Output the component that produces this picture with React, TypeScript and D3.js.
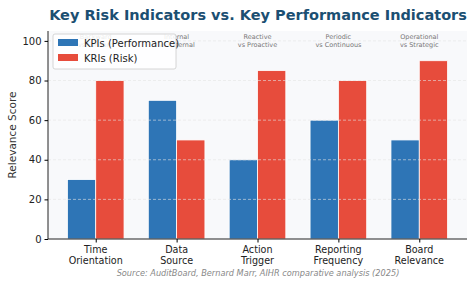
import React, { useRef, useEffect } from 'react';
import * as d3 from 'd3';

const categories = ['Time\nOrientation', 'Data\nSource', 'Action\nTrigger', 'Reporting\nFrequency', 'Board\nRelevance'];
const kpiValues = [30, 70, 40, 60, 50];
const kriValues = [80, 50, 85, 80, 90];
const notes = ['Backward\nvs Forward', 'Internal\nvs External', 'Reactive\nvs Proactive', 'Periodic\nvs Continuous', 'Operational\nvs Strategic'];
const yTicks = [0, 20, 40, 60, 80, 100];
const seriesNames = ['KPIs (Performance)', 'KRIs (Risk)'];
const colors = ['#2e75b6', '#e74c3c'];

const App = () => {
    const ref = useRef<SVGSVGElement>(null);

    useEffect(() => {
        const svg = d3.select(ref.current);
        svg.selectAll('*').remove();
        const font = 'DejaVu Sans, sans-serif';
        const left = 48, right = 467, top = 31, bottom = 239;

        const x = d3.scaleLinear().domain([-0.59, 4.59]).range([left, right]);
        const y = d3.scaleLinear().domain([0, 105]).range([bottom, top]);
        const bw = x(0.35) - x(0);

        svg.append('rect').attr('x', left).attr('y', top)
            .attr('width', right - left).attr('height', bottom - top).attr('fill', '#f8f9fb');

        // bars
        [kpiValues, kriValues].forEach((vals, s) => {
            svg.append('g').selectAll('rect').data(vals).enter().append('rect')
                .attr('x', (d, i) => x(i) + (s === 0 ? -bw : 0))
                .attr('y', d => y(d))
                .attr('width', bw)
                .attr('height', d => y(0) - y(d))
                .attr('fill', colors[s])
                .attr('stroke', '#fff').attr('stroke-width', 0.8);
        });

        // grid (drawn over bars)
        svg.append('g').selectAll('line').data(yTicks.filter(t => t > 0)).enter().append('line')
            .attr('x1', left).attr('x2', right)
            .attr('y1', d => y(d)).attr('y2', d => y(d))
            .attr('stroke', '#e4e4e4').attr('stroke-opacity', 0.75)
            .attr('stroke-dasharray', '3,2').attr('stroke-width', 0.8);

        // top annotations
        notes.forEach((n, i) => {
            const t = svg.append('text').attr('x', x(i)).attr('y', 39)
                .attr('text-anchor', 'middle').attr('font-family', font)
                .attr('font-size', 6.5).attr('fill', '#777');
            n.split('\n').forEach((line, j) => {
                t.append('tspan').attr('x', x(i)).attr('dy', j === 0 ? 0 : 8).text(line);
            });
        });

        // axes
        const yAxis = svg.append('g').attr('transform', `translate(${left},0)`)
            .call(d3.axisLeft(y).tickValues(yTicks).tickSize(3.5).tickPadding(3));
        yAxis.select('.domain').attr('d', `M0,${bottom}V${top}`).attr('stroke', '#222');
        yAxis.selectAll('text').attr('font-family', font).attr('font-size', 10).attr('fill', '#222');

        const xAxis = svg.append('g').attr('transform', `translate(0,${bottom})`)
            .call(d3.axisBottom(x).tickValues(d3.range(categories.length)).tickSize(3.5).tickFormat(() => ''));
        xAxis.select('.domain').attr('d', `M${left},0H${right}`).attr('stroke', '#222');

        categories.forEach((c, i) => {
            const t = svg.append('text').attr('x', x(i)).attr('y', 253)
                .attr('text-anchor', 'middle').attr('font-family', font)
                .attr('font-size', 9.6).attr('fill', '#222');
            c.split('\n').forEach((line, j) => {
                t.append('tspan').attr('x', x(i)).attr('dy', j === 0 ? 0 : 11).text(line);
            });
        });

        svg.append('text').attr('transform', `translate(16,${(top + bottom) / 2}) rotate(-90)`)
            .attr('text-anchor', 'middle').attr('font-family', font)
            .attr('font-size', 10.5).attr('fill', '#333').text('Relevance Score');

        // title
        svg.append('text').attr('x', 258).attr('y', 20)
            .attr('text-anchor', 'middle').attr('font-family', font)
            .attr('font-size', 14.5).attr('font-weight', 'bold').attr('fill', '#1b4f72')
            .text('Key Risk Indicators vs. Key Performance Indicators');

        // source
        svg.append('text').attr('x', 258).attr('y', 276)
            .attr('text-anchor', 'middle').attr('font-family', font)
            .attr('font-size', 8.2).attr('font-style', 'italic').attr('fill', '#888')
            .text('Source: AuditBoard, Bernard Marr, AIHR comparative analysis (2025)');

        // legend
        const lg = svg.append('g').attr('transform', 'translate(53,34)');
        lg.append('rect').attr('width', 123).attr('height', 35).attr('rx', 2)
            .attr('fill', '#fff').attr('fill-opacity', 0.85).attr('stroke', '#ccc').attr('stroke-width', 0.8);
        seriesNames.forEach((s, i) => {
            lg.append('rect').attr('x', 5).attr('y', 5 + i * 15).attr('width', 20).attr('height', 7).attr('fill', colors[i]);
            lg.append('text').attr('x', 31).attr('y', 12.5 + i * 15)
                .attr('font-family', font).attr('font-size', 10).attr('fill', '#222').text(s);
        });
    }, []);

    return <svg ref={ref} width={474} height={285} style={{ position: 'absolute', left: 0, top: 0 }} />;
};

export default App;
